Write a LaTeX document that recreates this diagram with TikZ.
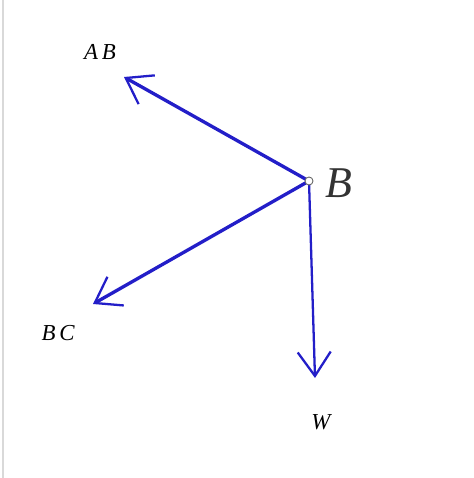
\documentclass[tikz,border=0pt]{standalone}
\usepackage{fontspec}
\setmainfont{Liberation Serif}
\usetikzlibrary{arrows.meta}
\definecolor{vecblue}{RGB}{35,30,200}
\begin{document}
\begin{tikzpicture}[line join=round, line cap=round,font=\normalsize,>={Straight Barb[length=4.8mm,width=6.6mm,line width=1.3pt]},
	force/.style={draw=vecblue,line width=1.9pt,->},
	lbl/.style={font=\fontsize{13}{15}\selectfont\itshape}]
	\useasboundingbox (0,0) rectangle (9.48,-9.56);
	\draw[black!15,line width=0.8pt] (0.06,0)--(0.06,-9.56);
	\path 
	(6.18,-3.62) coordinate (B)
	(2.48,-1.54) coordinate (AB)
	(1.86,-6.08) coordinate (BC)
	(6.30,-7.56) coordinate (W)
	;
	\draw[force] (B)--(AB);
	\draw[force] (B)--(BC);
	\draw[force,line width=1.3pt] (B)--(W);
	\draw[black!60,fill=white,line width=0.5pt] (B) circle (0.08);
	\foreach \x/\p/\t in {AB/{2.0,-1.04}/{A\,B},BC/{1.16,-6.66}/{B\,C},W/{6.42,-8.44}/W}{
		\node[lbl] (l\x) at (\p) {\t};
	};
	\node[font=\fontsize{25}{28}\selectfont\itshape,text=black!80] (lB) at (6.78,-3.66) {B};
\end{tikzpicture}
\end{document}
